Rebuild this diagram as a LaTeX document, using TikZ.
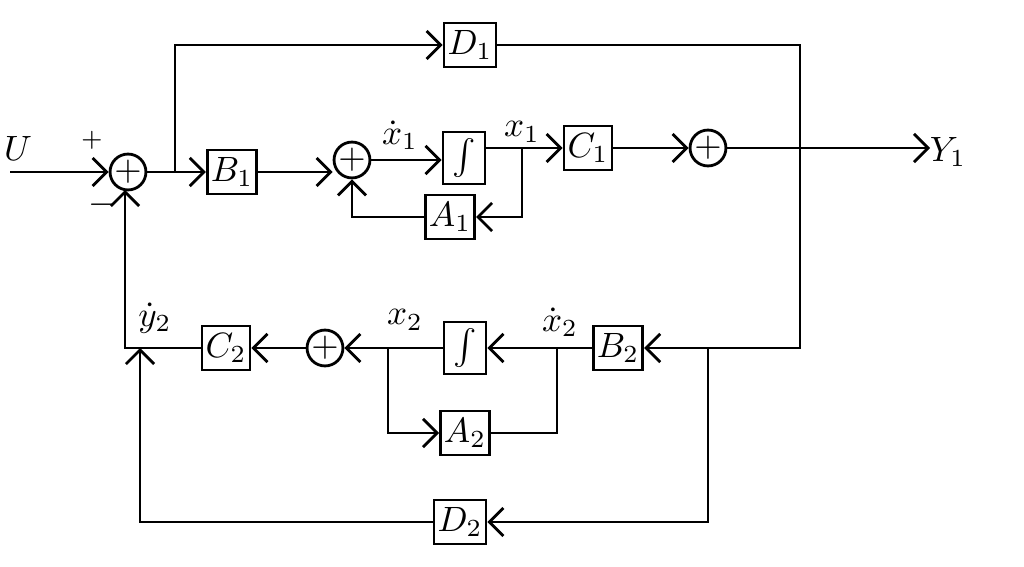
\documentclass[tikz,border=0pt]{standalone}
\usetikzlibrary{arrows.meta}
\begin{document}
\begin{tikzpicture}[x=0.01cm,y=-0.01cm,thick,
	block/.style={draw,minimum width=0.42cm,minimum height=0.44cm,inner sep=1pt},
	sumc/.style={draw,circle,inner sep=0pt,minimum size=0.3cm},
	>={Straight Barb[length=4pt]}]
	\useasboundingbox (0,0) rectangle (1024,567);
	% forward path
	\node [sumc] (s1) at (128,172) {$+$};
	\node [block] (b1) at (232,172) {$B_1$};
	\node [block] (d1) at (470,45) {$D_1$};
	\node [sumc] (s2) at (352,160) {$+$};
	\node [block,minimum height=0.52cm] (i1) at (464,158) {$\int$};
	\node [block] (c1) at (588,148) {$C_1$};
	\node [block] (a1) at (450,217) {$A_1$};
	\node [sumc] (s3) at (708,148) {$+$};
	% lower path
	\node [block] (b2) at (618,348) {$B_2$};
	\node [block,minimum height=0.52cm] (i2) at (465,348) {$\int$};
	\node [block] (a2) at (465,433) {$A_2$};
	\node [sumc] (s4) at (325,348) {$+$};
	\node [block] (c2) at (226,348) {$C_2$};
	\node [block] (d2) at (460,522) {$D_2$};
	% labels
	\coordinate (uin) at (10,172);
	\coordinate (y1) at (930,148);
	\node (lu) at (18,148) {$U$};
	\node (lp) at (92,140) {\scriptsize $+$};
	\node (lm) at (102,205) {$-$};
	\node (ly1) at (948,152) {$Y_1$};
	\node (lx1d) at (400,135) {$\dot{x}_1$};
	\node (lx1) at (522,132) {$x_1$};
	\node (lx2d) at (560,322) {$\dot{x}_2$};
	\node (lx2) at (405,320) {$x_2$};
	\node (ly2) at (155,318) {$\dot{y}_2$};
	% connectors
	\draw [->] (uin) -- (s1);
	\draw [->] (s1) -- (b1);
	\draw [->] (175,172) |- (d1);
	\draw [->] (b1) -- (b1 -| s2.west);
	\draw [->] (s2) -- (s2 -| i1.west);
	\draw [->] (i1.east |- c1) -- (c1);
	\draw [->] (522,148) |- (a1);
	\draw [->] (a1) -| (s2);
	\draw [->] (c1) -- (s3);
	\draw [->] (s3) -- (y1);
	\draw [->] (d1) -| (800,348) -- (b2);
	\draw [->] (b2) -- (i2);
	\draw [->] (i2) -- (s4);
	\draw [->] (388,348) |- (a2);
	\draw (a2) -| (557,348);
	\draw [->] (s4) -- (c2);
	\draw [->] (c2) -| (125,190);
	\draw [->] (708,348) |- (d2);
	\draw [->] (d2) -| (140,348);
\end{tikzpicture}
\end{document}
